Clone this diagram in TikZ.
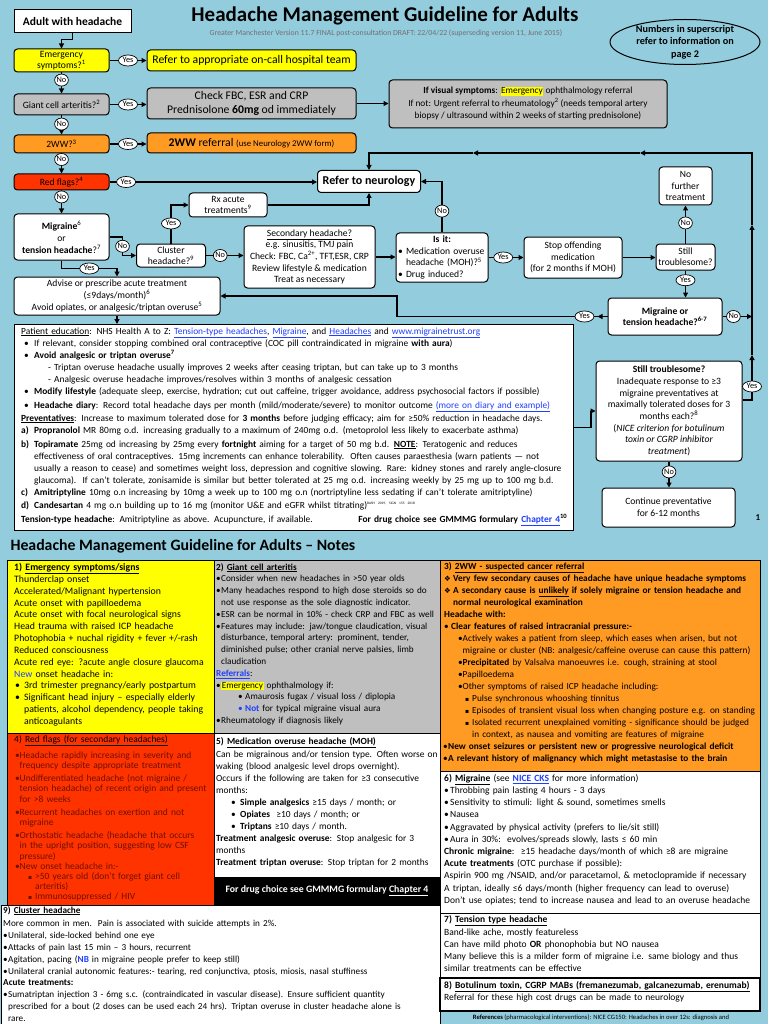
\documentclass[tikz,border=0pt]{standalone}
\usepackage{fontspec}
\setmainfont{Carlito}
\newfontfamily\dvsym{DejaVu Sans}
\usepackage{xcolor}
\usepackage{tikz}
\usetikzlibrary{arrows.meta,calc,positioning,shapes.geometric}
\definecolor{hmBg}{HTML}{93CDDD}
\definecolor{hmYellow}{HTML}{FFFF00}
\definecolor{hmGrey}{HTML}{BFBFBF}
\definecolor{hmOrange}{HTML}{FF9A22}
\definecolor{hmRed}{HTML}{FF3300}
\definecolor{hmMaroon}{HTML}{6E1000}
\definecolor{hmLink}{HTML}{1F3FFF}
\definecolor{hmSub}{HTML}{6F6F6F}
\newcommand\fsz[2]{\fontsize{#1}{#2}\selectfont}
\newcommand\sps[1]{\textsuperscript{#1}}
\newcommand\lnk[1]{\textcolor{hmLink}{\underline{#1}}}
\newcommand\hlt[1]{{\setlength{\fboxsep}{0.6pt}\colorbox{hmYellow}{#1}}}
\newcommand\bitem[3]{\par\leftskip=#1\relax\hangindent=#2\relax\hangafter=1\noindent\hbox to #2{#3\hss}\ignorespaces}
\newcommand\pline{\par\leftskip=0pt\relax\noindent\ignorespaces}
\newcommand\sqb{{\dvsym\fsz{6}{6}▪}}
\newcommand\dmd{{\dvsym\fsz{7.5}{7.5}❖}}
\newcommand\pbul{\makebox[13pt][l]{\hspace{3pt}•}}
\newcommand\plbl[1]{\makebox[13pt][l]{\textbf{#1}}}
\AtBeginDocument{\hyphenpenalty=10000\exhyphenpenalty=10000}

\begin{document}
\begin{tikzpicture}[x=1pt, y=-1pt,
  flowbox/.style={draw, line width=1pt, rounded corners=3.5pt, align=center, inner sep=1pt, font=\fsz{9.6}{11.5}},
  ynyes/.style={ellipse, draw, fill=white, line width=0.7pt, inner sep=0pt, text height=5.6pt, text depth=0.8pt, minimum width=19pt, minimum height=11pt, font=\fsz{8.3}{9}},
  ynno/.style={ynyes, minimum width=13pt, minimum height=12pt},
  conn/.style={-{Triangle[length=5pt,width=5pt]}, line width=1.1pt},
  wire/.style={line width=1.1pt},
  notebox/.style={draw, line width=0.9pt},
  notetxt/.style={anchor=north west, inner sep=0pt, align=left}]
  \useasboundingbox (0,0) rectangle (768,1024);
  \fill[hmBg] (0,0) rectangle (768,1024);

  % page 1: flowchart
  \node[draw, fill=white, line width=1pt, minimum width=117pt, minimum height=23pt, font=\bfseries\fsz{11.5}{13}] (adult) at (72.5,21.5) {Adult with headache};
  \node[font=\bfseries\fsz{21}{24}] (title) at (385,16) {Headache Management Guideline for Adults};
  \node[text=hmSub, font=\fsz{7.8}{9}] (subtitle) at (386,33.5) {Greater Manchester Version 11.7 FINAL post-consultation DRAFT: 22/04/22 (superseding version 11, June 2015)};
  \node[ellipse, draw, line width=1pt, minimum width=150pt, minimum height=45pt] (supnote) at (685,42) {};
  \node[align=center, font=\bfseries\fsz{10.2}{12.3}] (supnotetext) at (supnote.center) {Numbers in superscript\\refer to information on\\page 2};

  \node[flowbox, fill=hmYellow, minimum width=95pt, minimum height=23pt, font=\fsz{9.6}{10.6}] (emerg) at (61.5,60.5) {Emergency\\symptoms?\sps{1}};
  \node[flowbox, fill=hmYellow, minimum width=209pt, minimum height=21pt, font=\fsz{11.7}{14}] (oncall) at (251.5,60.5) {Refer to appropriate on-call hospital team};
  \node[flowbox, fill=hmGrey, minimum width=95pt, minimum height=21pt] (gca) at (61.5,104.5) {Giant cell arteritis?\sps{2}};
  \node[flowbox, fill=hmGrey, minimum width=209pt, minimum height=31pt, font=\fsz{11.7}{14.5}] (fbc) at (251.5,103.5) {Check FBC, ESR and CRP\\Prednisolone \textbf{60mg} od immediately};
  \node[flowbox, fill=hmGrey, minimum width=278pt, minimum height=48pt, font=\fsz{9.3}{12.5}] (visual) at (528,104) {\textbf{If visual symptoms}: \hlt{Emergency} ophthalmology referral\\If not: Urgent referral to rheumatology\sps{2} (needs temporal artery\\biopsy / ultrasound within 2 weeks of starting prednisolone)};
  \node[flowbox, fill=hmOrange, minimum width=95pt, minimum height=18pt] (tww) at (61.5,144) {2WW?\sps{3}};
  \node[flowbox, fill=hmOrange, minimum width=209pt, minimum height=20pt, font=\fsz{11.7}{14}] (twwref) at (251.5,143) {\textbf{2WW} referral {\fsz{8.8}{10}(use Neurology 2WW form)}};
  \node[flowbox, fill=hmRed, minimum width=95pt, minimum height=16pt] (redfl) at (61.5,182) {Red flags?\sps{4}};
  \node[flowbox, fill=white, minimum width=103pt, minimum height=22pt, font=\bfseries\fsz{12}{14}] (neuro) at (369,181.5) {Refer to neurology};
  \node[flowbox, fill=white, minimum width=95pt, minimum height=46pt, font=\fsz{9.6}{12}] (migr) at (61.5,237) {\textbf{Migraine}\sps{6}\\or\\\textbf{tension headache}?\sps{7}};
  \node[flowbox, fill=white, minimum width=69pt, minimum height=23pt, font=\fsz{9.6}{11}] (cluster) at (171,255.5) {Cluster\\headache?\sps{9}};
  \node[flowbox, fill=white, minimum width=78pt, minimum height=24pt, font=\fsz{9.6}{11}] (rxacute) at (228,205) {Rx acute\\treatments\sps{9}};
  \node[flowbox, fill=white, minimum width=131pt, minimum height=62pt, font=\fsz{9.6}{11.6}] (second) at (309.5,257) {\underline{Secondary headache?}\\e.g. sinusitis, TMJ pain\\Check: FBC, Ca\sps{2+}, TFT,ESR, CRP\\Review lifestyle \& medication\\Treat as necessary};
  \node[flowbox, fill=white, minimum width=92pt, minimum height=49pt, text width=88pt, align=left, font=\fsz{9.6}{11.8}] (isit) at (442,257.5) {\centerline{\textbf{Is it:}}\bitem{0pt}{8pt}{•}Medication overuse headache (MOH)?\sps{5}\bitem{0pt}{8pt}{•}Drug induced?\par};
  \node[flowbox, fill=white, minimum width=98pt, minimum height=41pt, font=\fsz{9.6}{11.8}] (stopmed) at (573,257.5) {Stop offending\\medication\\(for 2 months if MOH)};
  \node[flowbox, fill=white, minimum width=59pt, minimum height=26pt, font=\fsz{9.6}{11}] (still) at (685.5,257) {Still\\troublesome?};
  \node[flowbox, fill=white, minimum width=53pt, minimum height=38pt, font=\fsz{9.6}{11.5}] (nofurther) at (685.5,186) {No\\further\\treatment};
  \node[flowbox, fill=white, minimum width=114pt, minimum height=37pt, font=\bfseries\fsz{9.6}{11.5}] (migrtth) at (665,316.5) {Migraine or\\tension headache?\sps{6-7}};
  \node[flowbox, fill=white, minimum width=206pt, minimum height=38pt, font=\fsz{9.6}{12}] (advise) at (117,296) {Advise or prescribe acute treatment\\(≤9days/month)\sps{6}\\Avoid opiates, or analgesic/triptan overuse\sps{5}};
  \node[draw, fill=white, line width=1pt, minimum width=559pt, minimum height=206pt, anchor=north west, inner sep=0pt] (pated) at (14,324) {};
  \node[notetxt, text width=546pt, font=\fsz{9.4}{12}] (patedtext) at (21,327.5) {%
    \underline{Patient education}: NHS Health A to Z: \lnk{Tension-type headaches}, \lnk{Migraine}, and \lnk{Headaches} and \lnk{www.migrainetrust.org}\\
    \pbul If relevant, consider stopping combined oral contraceptive (COC pill contraindicated in migraine \textbf{with aura})\\
    \pbul\textbf{Avoid analgesic or triptan overuse\sps{7}}\\
    \hspace*{27pt}- Triptan overuse headache usually improves 2 weeks after ceasing triptan, but can take up to 3 months\\
    \hspace*{27pt}- Analgesic overuse headache improves/resolves within 3 months of analgesic cessation\\
    \pbul\textbf{Modify lifestyle} (adequate sleep, exercise, hydration; cut out caffeine, trigger avoidance, address psychosocial factors if possible)\\[2pt]
    \pbul\textbf{Headache diary}: Record total headache days per month (mild/moderate/severe) to monitor outcome \lnk{(more on diary and example)}\\[1pt]
    \textbf{\underline{Preventatives}}: Increase to maximum tolerated dose for \textbf{3 months} before judging efficacy; aim for ≥50\% reduction in headache days.\\
    \plbl{a)}\textbf{Propranolol} MR 80mg o.d. increasing gradually to a maximum of 240mg o.d. (metoprolol less likely to exacerbate asthma)\\[2pt]
    \plbl{b)}\textbf{Topiramate} 25mg od increasing by 25mg every \textbf{fortnight} aiming for a target of 50 mg b.d. \textbf{\underline{NOTE}}: Teratogenic and reduces\\
    \hspace*{13pt}effectiveness of oral contraceptives. 15mg increments can enhance tolerability.\ \ Often causes paraesthesia (warn patients — not\\
    \hspace*{13pt}usually a reason to cease) and sometimes weight loss, depression and cognitive slowing. Rare: kidney stones and rarely angle-closure\\
    \hspace*{13pt}glaucoma).\ \ If can’t tolerate, zonisamide is similar but better tolerated at 25 mg o.d. increasing weekly by 25 mg up to 100 mg b.d.\\
    \plbl{c)}\textbf{Amitriptyline} 10mg o.n increasing by 10mg a week up to 100 mg o.n (nortriptyline less sedating if can’t tolerate amitriptyline)\\[1pt]
    \plbl{d)}\textbf{Candesartan} 4 mg o.n building up to 16 mg (monitor U\&E and eGFR whilst titrating)\textsuperscript{\fsz{3.5}{4}BASH 2019, SIGN 155 2018}\\[2pt]
    \textbf{Tension-type headache}: Amitriptyline as above. Acupuncture, if available.\hfill\textbf{For drug choice see GMMMG formulary \lnk{Chapter 4}\sps{10}}\hspace*{6pt}};
  \node[flowbox, fill=white, minimum width=146pt, minimum height=100pt, font=\fsz{9.6}{11.7}] (stillpv) at (669,411) {\textbf{Still troublesome?}\\Inadequate response to ≥3\\migraine preventatives at\\maximally tolerated doses for 3\\months each?\sps{8}\\(\textit{NICE criterion for botulinum}\\\textit{toxin or CGRP inhibitor}\\\textit{treatment})};
  \node[flowbox, fill=white, minimum width=133pt, minimum height=39pt, font=\fsz{9.6}{12}] (contpv) at (668.5,507.5) {Continue preventative\\for 6-12 months};
  \node[font=\bfseries\fsz{9}{10}] (pgnum) at (758,518) {1};

  \draw[conn] (adult.south) -- ++(0,6) -| (emerg.north);
  \draw[conn] (emerg.east) -- node[ynyes]{Yes} (oncall.west);
  \draw[conn] (emerg.south) -- node[ynno, pos=0.36]{No} (gca.north);
  \draw[conn] (gca.east) -- node[ynyes]{Yes} (gca.east -| fbc.west);
  \draw[conn] (fbc.east) -- (fbc.east -| visual.west);
  \draw[conn] (gca.south) -- node[ynno, pos=0.45]{No} (tww.north);
  \draw[conn] (tww.east) -- node[ynyes]{Yes} (tww.east -| twwref.west);
  \draw[conn] (tww.south) -- node[ynno, pos=0.3]{No} (redfl.north);
  \draw[conn] (redfl.east) -- node[ynyes, pos=0.08]{Yes} (redfl.east -| neuro.west);
  \draw[conn] (redfl.south) -- node[ynno, pos=0.28]{No} (migr.north);
  \draw[conn] (migr.south) -- ++(0,8) -| node[ynyes, pos=0.25]{Yes} (advise.north);
  \draw[conn] (migr.east) -- ++(13,0) |- node[ynno, pos=0.25]{No} (cluster.west);
  \draw[conn] (cluster.north) |- node[ynyes, pos=0.26]{Yes} (rxacute.west);
  \draw[conn] (rxacute.east) -| (neuro.south);
  \draw[conn] (cluster.east) -- node[ynno, pos=0.38]{No} (cluster.east -| second.west);
  \draw[conn] (second.east) -- (second.east -| isit.west);
  \draw[conn] (isit.north) |- node[ynno, pos=0.21]{No} (neuro.east);
  \draw[conn] (isit.east) -- node[ynyes, pos=0.42]{Yes} (isit.east -| stopmed.west);
  \draw[conn] (stopmed.east) -- (stopmed.east -| still.west);
  \draw[conn] (still.north) -- node[ynno, pos=0.54]{No} (nofurther.south);
  \draw[conn] (still.south) -- node[ynyes, pos=0.36]{Yes} (still.south |- migrtth.north);
  \draw[conn] (advise.south) -- (advise.south |- pated.north);
  \draw[conn] (pated.east) -- ++(17,0) |- (stillpv.west);
  \draw[conn] (stillpv.south) -- node[ynno, pos=0.4]{No} (stillpv.south |- contpv.north);

  \coordinate (rmid1) at (752,355);
  \coordinate (rmid2) at (752,225);
  \coordinate (tmid1) at (640,153);
  \coordinate (tmid2) at (473,153);
  \coordinate (rjoin) at (752,316.5);
  \coordinate (ljoin) at (397,316.5);
  \draw[conn] ([yshift=11pt]stillpv.east) -| node[ynyes, pos=0.65]{Yes} (rmid1);
  \draw[conn] (rmid1) -- (rmid2);
  \draw[conn] (rmid2) |- (tmid1);
  \draw[conn] (tmid1) -- (tmid2);
  \draw[conn] (tmid2) -| (neuro.north);
  \draw[conn] (migrtth.east) -- node[ynno, pos=0.37]{No} (rjoin);
  \draw[conn] (migrtth.west) -- ++(-10,0) coordinate (ytip);
  \draw[conn] (ytip) -- node[ynyes, pos=0.065]{Yes} (ljoin) |- (advise.east);

  % page 2: notes
  \node[anchor=west, font=\bfseries\fsz{15.8}{18}] (noteshead) at (7,546) {Headache Management Guideline for Adults – Notes};
  \filldraw[notebox, fill=white] (1,905) rectangle (440,1040);
  \filldraw[notebox, fill=hmYellow] (7,560) rectangle (214,733);
  \filldraw[notebox, fill=hmRed] (7,733) rectangle (214,905);
  \filldraw[notebox, fill=hmGrey] (214,560) rectangle (440,733);
  \filldraw[notebox, fill=white] (214,733) rectangle (440,877);
  \filldraw[notebox, fill=black] (214,877) rectangle (440,905);
  \filldraw[notebox, fill=hmOrange] (440,560) rectangle (760,771);
  \filldraw[notebox, fill=white] (440,771) rectangle (760,913);
  \filldraw[notebox, fill=white] (440,913) rectangle (760,978);
  \filldraw[notebox, fill=white, line width=1.6pt] (440,978) rectangle (760,1011);

  \node[notetxt, text width=198pt, font=\fsz{9.8}{11.85}] (emergnote) at (14,563) {%
    \textbf{1) \underline{Emergency symptoms/signs}}
    \pline Thunderclap onset
    \pline Accelerated/Malignant hypertension
    \pline Acute onset with papilloedema
    \pline Acute onset with focal neurological signs
    \pline Head trauma with raised ICP headache
    \pline Photophobia + nuchal rigidity + fever +/-rash
    \pline Reduced consciousness
    \pline Acute red eye: ?acute angle closure glaucoma
    \pline\textcolor{hmLink}{New} onset headache in:
    \bitem{1pt}{9pt}{•}3rd trimester pregnancy/early postpartum
    \bitem{1pt}{9pt}{•}Significant head injury – especially elderly patients, alcohol dependency, people taking anticoagulants\par};
  \node[notetxt, text width=198pt, font=\fsz{9.5}{10.2}, text=hmMaroon] (redflnote) at (14,735) {%
    \textcolor{black}{4) \underline{Red flags (for secondary headaches)}}\par\vspace{5pt}
    \bitem{1pt}{4.5pt}{•}Headache rapidly increasing in severity and frequency despite appropriate treatment\par\vspace{3pt}
    \bitem{1pt}{4.5pt}{•}Undifferentiated headache (not migraine / tension headache) of recent origin and present for >8 weeks\par\vspace{3pt}
    \bitem{1pt}{4.5pt}{•}Recurrent headaches on exertion and not migraine\par\vspace{3pt}
    \bitem{1pt}{4.5pt}{•}Orthostatic headache (headache that occurs in the upright position, suggesting low CSF pressure)
    \bitem{1pt}{4.5pt}{•}New onset headache in:-
    \bitem{14pt}{7pt}{\sqb}>50 years old (don’t forget giant cell arteritis)
    \bitem{14pt}{7pt}{\sqb}Immunosuppressed / HIV\par};
  \node[notetxt, text width=223pt, font=\fsz{9.2}{11.8}] (gcanote) at (216,563) {%
    \textbf{2) \underline{Giant cell arteritis}}
    \bitem{0pt}{5pt}{•}Consider when new headaches in >50 year olds
    \bitem{0pt}{5pt}{•}Many headaches respond to high dose steroids so do not use response as the sole diagnostic indicator.
    \bitem{0pt}{5pt}{•}ESR can be normal in 10\% - check CRP and FBC as well
    \bitem{0pt}{5pt}{•}Features may include: jaw/tongue claudication, visual disturbance, temporal artery: prominent, tender, diminished pulse; other cranial nerve palsies, limb claudication
    \pline\textcolor{hmLink}{\textbf{\underline{Referrals}}}:
    \bitem{0pt}{5pt}{•}\hlt{Emergency} ophthalmology if:
    \bitem{22pt}{7pt}{•}Amaurosis fugax / visual loss / diplopia
    \bitem{22pt}{7pt}{\textcolor{hmLink}{•}}\textcolor{hmLink}{\textbf{Not}} for typical migraine visual aura
    \bitem{0pt}{5pt}{•}Rheumatology if diagnosis likely\par};
  \node[notetxt, text width=222pt, font=\fsz{9.4}{12}] (mohnote) at (216,737) {%
    \textbf{5) \underline{Medication overuse headache (MOH)}}\par\vspace{1pt}
    \pline Can be migrainous and/or tension type. Often worse on waking (blood analgesic level drops overnight).
    \pline Occurs if the following are taken for ≥3 consecutive months:
    \bitem{15pt}{9pt}{•}\textbf{Simple analgesics} ≥15 days / month; or
    \bitem{15pt}{9pt}{•}\textbf{Opiates}\ \ ≥10 days / month; or
    \bitem{15pt}{9pt}{•}\textbf{Triptans} ≥10 days / month.
    \pline\textbf{Treatment analgesic overuse}: Stop analgesic for 3 months
    \pline\textbf{Treatment triptan overuse}: Stop triptan for 2 months\par};
  \node[text=white, font=\bfseries\fsz{9.8}{11}] (drugnote) at (327,891) {For drug choice see GMMMG formulary \underline{Chapter 4}};
  \node[notetxt, text width=314pt, font=\fsz{9.3}{12}] (twwnote) at (444,562) {%
    \textbf{3) \underline{2WW - suspected cancer referral}}
    \bitem{0pt}{9pt}{\dmd}\textbf{Very few secondary causes of headache have unique headache symptoms}
    \bitem{0pt}{9pt}{\dmd}\textbf{A secondary cause is \underline{unlikely} if solely migraine or tension headache and normal neurological examination}
    \pline\textbf{Headache with:}
    \bitem{0pt}{7pt}{•}\textbf{Clear features of raised intracranial pressure:-}
    \bitem{14pt}{4.5pt}{•}Actively wakes a patient from sleep, which eases when arisen, but not migraine or cluster (NB: analgesic/caffeine overuse can cause this pattern)
    \bitem{14pt}{4.5pt}{•}\textbf{Precipitated} by Valsalva manoeuvres i.e. cough, straining at stool
    \bitem{14pt}{4.5pt}{•}Papilloedema
    \bitem{14pt}{4.5pt}{•}Other symptoms of raised ICP headache including:
    \bitem{21pt}{7pt}{\sqb}Pulse synchronous whooshing tinnitus
    \bitem{21pt}{7pt}{\sqb}Episodes of transient visual loss when changing posture e.g. on standing
    \bitem{21pt}{7pt}{\sqb}Isolated recurrent unexplained vomiting - significance should be judged in context, as nausea and vomiting are features of migraine
    \bitem{-1pt}{5pt}{•}\textbf{New onset seizures or persistent new or progressive neurological deficit}
    \bitem{-1pt}{5pt}{•}\textbf{A relevant history of malignancy which might metastasise to the brain}\par};
  \node[notetxt, text width=314pt, font=\fsz{9.5}{12.2}] (migrnote) at (444,774) {%
    \textbf{6) \underline{Migraine}} (see \textbf{\lnk{NICE CKS}} for more information)
    \bitem{0pt}{6pt}{•}Throbbing pain lasting 4 hours - 3 days
    \bitem{0pt}{6pt}{•}Sensitivity to stimuli: light \& sound, sometimes smells
    \bitem{0pt}{6pt}{•}Nausea
    \bitem{0pt}{6pt}{•}Aggravated by physical activity (prefers to lie/sit still)
    \bitem{0pt}{6pt}{•}Aura in 30\%:\ \ evolves/spreads slowly, lasts ≤ 60 min
    \pline\textbf{Chronic migraine}:\ \ ≥15 headache days/month of which ≥8 are migraine
    \pline\textbf{Acute treatments} (OTC purchase if possible):
    \pline Aspirin 900 mg /NSAID, and/or paracetamol, \& metoclopramide if necessary
    \pline A triptan, ideally ≤6 days/month (higher frequency can lead to overuse)
    \pline Don’t use opiates; tend to increase nausea and lead to an overuse headache\par};
  \node[notetxt, text width=314pt, font=\fsz{9.5}{12}] (tthnote) at (444,915) {%
    \textbf{7) \underline{Tension type headache}}\par\vspace{1pt}
    \pline Band-like ache, mostly featureless
    \pline Can have mild photo \textbf{OR} phonophobia but NO nausea
    \pline Many believe this is a milder form of migraine i.e. same biology and thus\newline similar treatments can be effective\par};
  \node[notetxt, text width=314pt, font=\fsz{9.5}{12}] (botnote) at (444,981) {%
    \textbf{8) \underline{Botulinum toxin, CGRP MABs (fremanezumab, galcanezumab, erenumab)}}
    \pline Referral for these high cost drugs can be made to neurology\par};
  \node[font=\fsz{6.6}{8}] (refs) at (601,1018) {\textbf{References} (pharmacological interventions): NICE CG150: Headaches in over 12s: diagnosis and};
  \node[notetxt, text width=416pt, font=\fsz{9.2}{11.8}] (clusternote) at (3,906) {%
    \textbf{9) \underline{Cluster headache}}\par\vspace{2pt}
    \pline More common in men.\ \ Pain is associated with suicide attempts in 2\%.
    \bitem{0pt}{5pt}{•}Unilateral, side-locked behind one eye
    \bitem{0pt}{5pt}{•}Attacks of pain last 15 min – 3 hours, recurrent
    \bitem{0pt}{5pt}{•}Agitation, pacing (\textcolor{hmLink}{\textbf{NB}} in migraine people prefer to keep still)
    \bitem{0pt}{5pt}{•}Unilateral cranial autonomic features:- tearing, red conjunctiva, ptosis, miosis, nasal stuffiness
    \pline\textbf{Acute treatments:}
    \bitem{0pt}{5pt}{•}Sumatriptan injection 3 - 6mg s.c. (contraindicated in vascular disease). Ensure sufficient quantity\newline prescribed for a bout (2 doses can be used each 24 hrs). Triptan overuse in cluster headache alone is\newline rare.\par};
\end{tikzpicture}
\end{document}
